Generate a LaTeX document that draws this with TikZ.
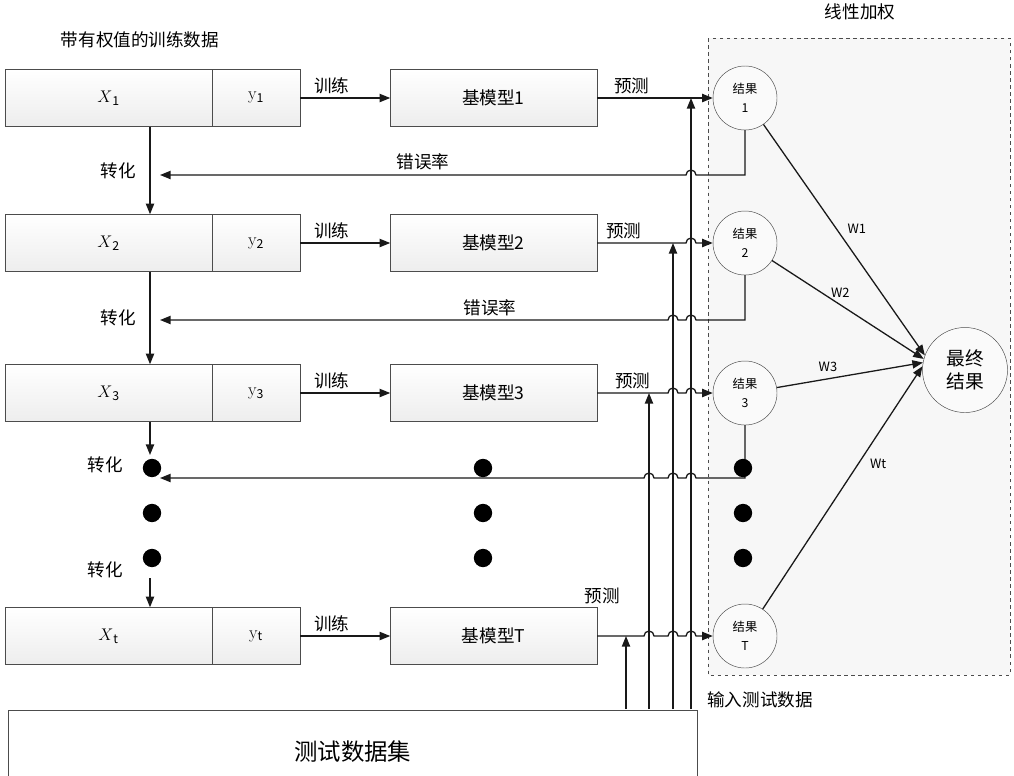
\documentclass[tikz,border=0pt]{standalone}
\usepackage{fontspec}
\setmainfont{Noto Sans CJK SC}
\usetikzlibrary{arrows.meta,calc}
\newfontfamily\lmr{Latin Modern Roman}
\newcommand{\mth}[2]{{\lmr #1$_{\mathrm{#2}}$}}
\begin{document}
\begin{tikzpicture}[x=0.03cm,y=-0.03cm,
    box/.style={draw=gray!60!black, top color=white, bottom color=gray!14, minimum height=1.71cm, inner sep=0pt, font=\fontsize{15}{17}\selectfont},
    res/.style={circle, draw=gray!60!black, fill=gray!4, minimum size=1.92cm, inner sep=0pt, align=center, font=\fontsize{10.5}{16}\selectfont},
    line/.style={draw=gray!20!black, line width=1.1pt},
    arr/.style={line, -{Triangle[length=9pt,width=7pt]}},
    dot/.style={circle, fill=black, minimum size=0.55cm, inner sep=0pt},
    lab/.style={font=\fontsize{15}{17}\selectfont},
    wl/.style={font=\fontsize{11}{13}\selectfont}]
\useasboundingbox (0,0) rectangle (1014,775);

% weighted area
\draw[dashed, gray!60!black, fill=gray!6] (708,38) rectangle (1010,675);
\node[lab] at (860,12) {线性加权};
\node[lab] at (140,40) {带有权值的训练数据};

% training rows
\foreach \i/\y/\s in {1/98/1,2/243/2,3/393/3,t/636/t}{
  \node[box, minimum width=6.21cm] (x\i) at (108.5,\y) {\mth{$X$}{\s}};
  \node[box, minimum width=2.64cm] (y\i) at (256,\y) {\mth{y}{\s}};
  \draw[arr] (y\i.east) -- node[lab, above, pos=0.35] {训练} ++(90,0);
}
\node[box, minimum width=6.21cm] (m1) at (493.5,98) {基模型1};
\node[box, minimum width=6.21cm] (m2) at (493.5,243) {基模型2};
\node[box, minimum width=6.21cm] (m3) at (493.5,393) {基模型3};
\node[box, minimum width=6.21cm] (mt) at (493.5,636) {基模型T};

% results
\node[res] (c1) at (745,98) {结果\\1};
\node[res] (c2) at (745,243) {结果\\2};
\node[res] (c3) at (745,393) {结果\\3};
\node[res] (ct) at (745,636) {结果\\T};
\node[circle, draw=gray!60!black, fill=gray!4, minimum size=2.55cm, inner sep=0pt, align=center, font=\fontsize{16}{20}\selectfont] (fin) at (965,370) {最终\\结果};

% test data
\node[draw=gray!60!black, fill=white, minimum width=20.67cm, minimum height=2.4cm, anchor=north west, font=\fontsize{20}{22}\selectfont, text depth=-0.55cm] (tst) at (8,710) {测试数据集};
\node[lab] at (760,700) {输入测试数据};

% test inputs
\draw[arr] (691,709) -- (691,98);
\draw[arr] (673,709) -- (673,243);
\draw[arr] (649,709) -- (649,393);
\draw[arr] (626,709) -- (626,636);

% predictions
\draw[arr] (m1.east) -- node[lab, above, pos=0.3] {预测} (c1.west);
\draw[arr] (m2.east) -- node[lab, above, pos=0.3] {预测} (686,243) arc[start angle=180,end angle=0,radius=0.15cm] -- (c2.west);
\draw[arr] (m3.east) -- node[lab, above, pos=0.5] {预测} (668,393) arc[start angle=180,end angle=0,radius=0.15cm] -- (686,393) arc[start angle=180,end angle=0,radius=0.15cm] -- (c3.west);
\node[lab] at (602,596) {预测};
\draw[arr] (mt.east) -- (644,636) arc[start angle=180,end angle=0,radius=0.15cm] -- (668,636) arc[start angle=180,end angle=0,radius=0.15cm] -- (686,636) arc[start angle=180,end angle=0,radius=0.15cm] -- (ct.west);

% error rates
\draw[arr] (c1.south) -- (745,175) -- (696,175) arc[start angle=0,end angle=180,radius=0.15cm] -- node[lab, above] {错误率} (160,175);
\draw[arr] (c2.south) -- (745,320) -- (696,320) arc[start angle=0,end angle=180,radius=0.15cm] -- (678,320) arc[start angle=0,end angle=180,radius=0.15cm] -- node[lab, above, pos=0.35] {错误率} (160,320);
\draw[arr] (c3.south) -- (745,478) -- (696,478) arc[start angle=0,end angle=180,radius=0.15cm] -- (678,478) arc[start angle=0,end angle=180,radius=0.15cm] -- (654,478) arc[start angle=0,end angle=180,radius=0.15cm] -- (160,478);

% conversions
\draw[arr] (x1.south -| 150,0) -- node[lab, left=8pt] {转化} (x2.north -| 150,0);
\draw[arr] (x2.south -| 150,0) -- node[lab, left=8pt] {转化} (x3.north -| 150,0);
\draw[arr] (x3.south -| 150,0) -- (150,455);
\node[lab] at (105,465) {转化};
\node[lab] at (105,570) {转化};
\draw[arr] (150,578) -- (xt.north -| 150,0);

% dots
\foreach \x in {152,483,743}{
  \node[dot] at (\x,468) {};
  \node[dot] at (\x,513) {};
  \node[dot] at (\x,558) {};
}

% weights
\draw[arr] (c1) -- node[wl, pos=0.45, right=6pt] {W1} (fin.160);
\draw[arr] (c2) -- node[wl, pos=0.45, above=2pt] {W2} (fin.165);
\draw[arr] (c3) -- node[wl, pos=0.35, above=2pt] {W3} (fin.170);
\draw[arr] (ct) -- node[wl, pos=0.6, right=6pt] {Wt} (fin.175);
\end{tikzpicture}
\end{document}
